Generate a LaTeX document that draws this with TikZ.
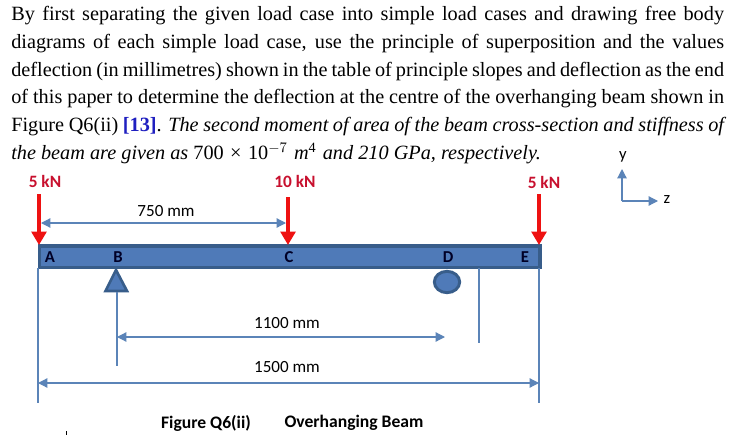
\documentclass[tikz,border=0pt]{standalone}
\usepackage{fontspec}
\setmainfont{Liberation Serif}
\newfontfamily\calfont{Carlito}
\usepackage{xcolor}
\usetikzlibrary{arrows.meta,shapes.geometric}
\definecolor{bfill}{HTML}{4F7AB8}
\definecolor{bdark}{HTML}{385D8A}
\definecolor{dimc}{HTML}{5B84B8}
\definecolor{fred}{HTML}{EE1111}
\definecolor{lred}{HTML}{C8102E}
\definecolor{refblue}{HTML}{1F1FC0}
\tikzset{
  para/.style={anchor=base west,inner sep=0pt,font=\fontsize{15.2pt}{17pt}\selectfont},
  lbl/.style={inner sep=0pt,font=\calfont\fontsize{12.8pt}{14pt}\selectfont,text=black},
  bold lbl/.style={inner sep=0pt,font=\calfont\bfseries\fontsize{13.2pt}{15pt}\selectfont,text=black},
  load lbl/.style={inner sep=0pt,font=\calfont\bfseries\fontsize{13pt}{15pt}\selectfont,text=lred},
  load/.style={draw=fred,line width=3pt,-{Triangle[length=10pt,width=11pt,fill=fred]}},
  dim/.style={draw=dimc,line width=0.9pt,{Triangle[length=7pt,width=7pt,fill=dimc]}-{Triangle[length=7pt,width=7pt,fill=dimc]}},
  dimr/.style={draw=dimc,line width=0.9pt,-{Triangle[length=7pt,width=7pt,fill=dimc]}},
  ext/.style={draw=dimc,line width=0.9pt},
  beamlet/.style={inner sep=0pt,font=\calfont\bfseries\fontsize{12.5pt}{14pt}\selectfont,text=black!85!blue},
  x=0.75pt,y=-0.75pt
}
\newcommand{\justline}[1]{\makebox[534.6pt][s]{#1}}
\begin{document}
\begin{tikzpicture}
\useasboundingbox[fill=white] (0,0) rectangle (738,435);
\node[para] (t1) at (11,21) {\justline{By first separating the given load case into simple load cases and drawing free body}};
\node[para] (t2) at (11,48.5) {\justline{diagrams of each simple load case, use the principle of superposition and the values}};
\node[para] (t3) at (11,76) {\justline{deflection (in millimetres) shown in the table of principle slopes and deflection as the end}};
\node[para] (t4) at (11,103.5) {\justline{of this paper to determine the deflection at the centre of the overhanging beam shown in}};
\node[para] (t5) at (11,131) {\justline{Figure Q6(ii) {\bfseries\color{refblue}[13]}. \itshape The second moment of area of the beam cross-section and stiffness of}};
\node[para] (t6) at (11,159) {\itshape the beam are given as \upshape 700\hspace{1pt} × \hspace{1pt}10$^{-7}$\hspace{1pt} \itshape m\textsuperscript{\upshape 4}\hspace{1pt} and 210 GPa, respectively.};

% beam and supports
\node[draw=bdark,fill=bfill,line width=2.4pt,outer sep=0pt,minimum width=375.4pt,minimum height=16pt,inner sep=0pt,anchor=north west] (beam) at (39.5,246) {};
\coordinate (bA) at (39,245);
\coordinate (bC) at (288,245);
\coordinate (bE) at (539,245);
\coordinate (tA) at (39,194);
\coordinate (tC) at (288,197);
\coordinate (tE) at (539,194);
\node[beamlet] (A) at (50,257) {A};
\node[beamlet] (B) at (118,257) {B};
\node[beamlet] (C) at (289,257) {C};
\node[beamlet] (D) at (448,257) {D};
\node[beamlet] (E) at (525,257) {E};
\coordinate (sa) at (116,270);
\coordinate (sb) at (105.5,291);
\coordinate (sc) at (127,291);
\draw[draw=bdark,fill=bfill,line width=2pt,line join=miter] (sa) -- (sb) -- (sc) -- cycle;
\node[draw=bdark,fill=bfill,line width=2.2pt,ellipse,minimum width=19pt,minimum height=16pt,inner sep=0pt] (roller) at (447,282) {};

% extension lines
\coordinate (e1a) at (38,268); \coordinate (e1b) at (38,403);
\coordinate (e2a) at (117,292); \coordinate (e2b) at (117,366);
\coordinate (e3a) at (479,268); \coordinate (e3b) at (479,343);
\coordinate (e4a) at (539,268); \coordinate (e4b) at (539,403);
\draw[ext] (e1a) -- (e1b);
\draw[ext] (e2a) -- (e2b);
\draw[ext] (e3a) -- (e3b);
\draw[ext] (e4a) -- (e4b);

% dimensions
\coordinate (d1a) at (41,223); \coordinate (d1b) at (286,223);
\coordinate (d2a) at (117,337); \coordinate (d2b) at (445,337);
\coordinate (d3a) at (38,383); \coordinate (d3b) at (539,383);
\draw[dim] (d1a) -- (d1b);
\draw[dim] (d2a) -- (d2b);
\draw[dim] (d3a) -- (d3b);
\node[lbl] (l750) at (166,211) {750 mm};
\node[lbl] (l1100) at (287,323) {1100 mm};
\node[lbl] (l1500) at (287,367) {1500 mm};

% loads
\draw[load] (tA) -- (bA);
\draw[load] (tC) -- (bC);
\draw[load] (tE) -- (bE);
\node[load lbl] (f1) at (45,181) {5 kN};
\node[load lbl] (f2) at (295,181) {10 kN};
\node[load lbl] (f3) at (544,182) {5 kN};

% axes
\coordinate (o) at (622,201);
\coordinate (ay) at (622,169);
\coordinate (az) at (658,201);
\draw[dimr] (o) -- (ay);
\draw[dimr] (o) -- (az);
\node[lbl,font=\calfont\fontsize{12.5pt}{14pt}\selectfont] (ly) at (623,157) {y};
\node[lbl,font=\calfont\fontsize{12.5pt}{14pt}\selectfont] (lz) at (667,200) {z};

% caption
\node[bold lbl] (c1) at (206,423) {Figure Q6(ii)};
\node[bold lbl] (c2) at (354,423) {Overhanging Beam};
\coordinate (k1) at (66,431); \coordinate (k2) at (66,435);
\draw[black,line width=0.6pt] (k1) -- (k2);
\end{tikzpicture}
\end{document}
